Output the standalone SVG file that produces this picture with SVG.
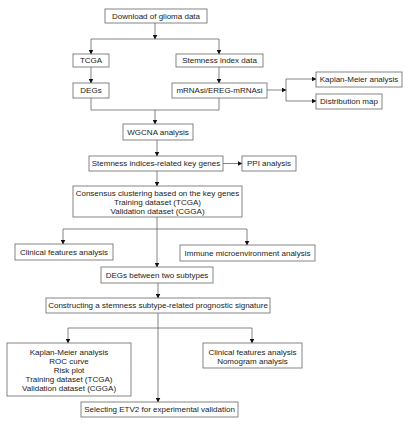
<svg xmlns="http://www.w3.org/2000/svg" width="410" height="425" viewBox="0 0 410 425">
<defs>
<marker id="ah" markerWidth="5" markerHeight="5" refX="4.5" refY="2.5" orient="auto" markerUnits="userSpaceOnUse">
<path d="M0,0 L5,2.5 L0,5 Z" fill="#111"/>
</marker>
</defs>
<style>
.b{fill:#fff;stroke:#666;stroke-width:0.8}
.t{font-family:"Liberation Sans",Arial,sans-serif;font-size:8px;fill:#222;text-anchor:middle}
.c{fill:none;stroke:#666;stroke-width:0.8}
.a{fill:none;stroke:#666;stroke-width:0.8;marker-end:url(#ah)}
</style>
<rect width="410" height="425" fill="#fff"/>
<g id="connectors">
<path class="a" d="M155,23 V39"/>
<path class="c" d="M91,39 H219"/>
<path class="a" d="M91,39 V54"/>
<path class="a" d="M219,39 V54"/>
<path class="a" d="M91,67 V83"/>
<path class="a" d="M219,67 V83"/>
<path class="a" d="M267,90 H286"/>
<path class="c" d="M286,79 V101"/>
<path class="a" d="M286,79 H316"/>
<path class="a" d="M286,101 H316"/>
<path class="c" d="M91,98 V110 H219 V98"/>
<path class="a" d="M155,110 V124"/>
<path class="a" d="M157,140 V156"/>
<path class="a" d="M223,163.5 H242"/>
<path class="a" d="M157,171 V186"/>
<path class="a" d="M157,217 V267"/>
<path class="c" d="M63,229 H247"/>
<path class="a" d="M63,229 V244"/>
<path class="a" d="M247,229 V245"/>
<path class="a" d="M158,283 V298"/>
<path class="a" d="M158,313 V402"/>
<path class="c" d="M68,328 H252"/>
<path class="a" d="M68,328 V343"/>
<path class="a" d="M252,328 V343"/>
</g>
<g id="download"><rect class="b" x="105" y="9" width="102" height="14"/><text class="t" x="156" y="18.8">Download of glioma data</text></g>
<g id="tcga"><rect class="b" x="73" y="54" width="36" height="13"/><text class="t" x="91" y="63.3">TCGA</text></g>
<g id="stemness"><rect class="b" x="176" y="54" width="87" height="13"/><text class="t" x="219.5" y="63.3">Stemness index data</text></g>
<g id="degs"><rect class="b" x="73" y="83" width="36" height="15"/><text class="t" x="91" y="93.3">DEGs</text></g>
<g id="mrnasi"><rect class="b" x="172" y="83" width="95" height="15"/><text class="t" x="219.5" y="93.3">mRNAsi/EREG-mRNAsi</text></g>
<g id="kaplan1"><rect class="b" x="316" y="72" width="86" height="15"/><text class="t" x="359" y="82.3">Kaplan-Meier analysis</text></g>
<g id="distribution"><rect class="b" x="316" y="94" width="66" height="15"/><text class="t" x="349" y="104.3">Distribution map</text></g>
<g id="wgcna"><rect class="b" x="123" y="124" width="70" height="16"/><text class="t" x="158" y="134.8">WGCNA analysis</text></g>
<g id="keygenes"><rect class="b" x="89" y="156" width="134" height="15"/><text class="t" x="156" y="166.3">Stemness indices-related key genes</text></g>
<g id="ppi"><rect class="b" x="242" y="156" width="54" height="15"/><text class="t" x="269" y="166.3">PPI analysis</text></g>
<g id="consensus"><rect class="b" x="73" y="186" width="169" height="31"/>
<text class="t" x="157.5" y="196">Consensus clustering based on the key genes</text>
<text class="t" x="157.5" y="205">Training dataset (TCGA)</text>
<text class="t" x="157.5" y="214">Validation dataset (CGGA)</text></g>
<g id="clinical1"><rect class="b" x="15" y="244" width="98" height="16"/><text class="t" x="64" y="254.8">Clinical features analysis</text></g>
<g id="immune"><rect class="b" x="180" y="245" width="135" height="16"/><text class="t" x="247.5" y="255.8">Immune microenvironment analysis</text></g>
<g id="degs2"><rect class="b" x="101" y="267" width="112" height="16"/><text class="t" x="157" y="277.8">DEGs between two subtypes</text></g>
<g id="signature"><rect class="b" x="46" y="298" width="224" height="15"/><text class="t" x="158" y="308.3">Constructing a stemness subtype-related prognostic signature</text></g>
<g id="kaplan2"><rect class="b" x="7" y="343" width="124" height="53"/>
<text class="t" x="69" y="355">Kaplan-Meier analysis</text>
<text class="t" x="69" y="364">ROC curve</text>
<text class="t" x="69" y="373">Risk plot</text>
<text class="t" x="69" y="382">Training dataset (TCGA)</text>
<text class="t" x="69" y="391">Validation dataset (CGGA)</text></g>
<g id="clinical2"><rect class="b" x="203" y="343" width="99" height="25"/>
<text class="t" x="252.5" y="355">Clinical features analysis</text>
<text class="t" x="252.5" y="364">Nomogram analysis</text></g>
<g id="etv2"><rect class="b" x="81" y="402" width="157" height="15"/><text class="t" x="159.5" y="412.3">Selecting ETV2 for experimental validation</text></g>
</svg>
